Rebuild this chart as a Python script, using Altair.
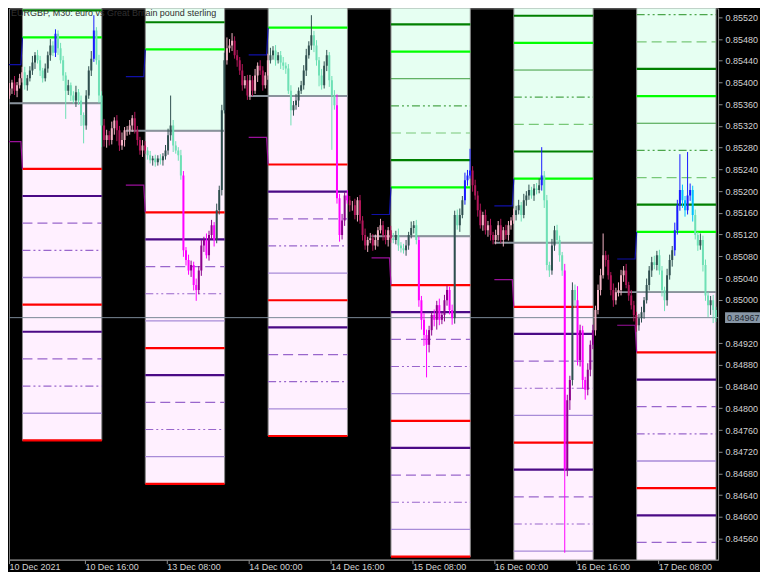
import altair as alt
import pandas as pd

# ---------------- data (prices in points above 0.84000; 1 point = 0.00001) ----------------
PRICE_BASE = 0.84
POINT = 0.00001

first_open = 1362
day0_close = [1367, 1376, 1389, 1400, 1385, 1395, 1408, 1419,
              1395, 1408, 1422, 1437, 1450, 1441, 1422, 1408,
              1426, 1450, 1468, 1455, 1490, 1463, 1441, 1413,
              1385, 1395, 1376, 1367, 1382, 1367, 1340, 1321,
              1376, 1422, 1444, 1496, 1441, 1376, 1321, 1294,
              1303, 1294, 1316, 1330, 1312, 1284, 1294, 1312]
day1_close = [1312, 1321, 1334, 1312, 1294, 1275, 1284, 1275,
              1266, 1257, 1260, 1253, 1260, 1257, 1264, 1275,
              1303, 1321, 1284, 1275, 1266, 1229, 1091, 1073,
              1054, 1064, 1027, 1018, 1054, 1100, 1110, 1082,
              1119, 1137, 1110, 1165, 1202, 1349, 1441, 1463,
              1468, 1477, 1450, 1441, 1422, 1395, 1404, 1376]
day2_close = [1404, 1385, 1413, 1431, 1422, 1395, 1413, 1441,
              1450, 1459, 1441, 1450, 1437, 1431, 1426, 1385,
              1349, 1358, 1367, 1385, 1395, 1422, 1450, 1468,
              1487, 1468, 1441, 1413, 1395, 1431, 1450, 1404,
              1376, 1358, 1187, 1119, 1146, 1192, 1183, 1174,
              1174, 1156, 1183, 1146, 1119, 1100, 1110, 1113]
day3_close = [1100, 1110, 1128, 1137, 1119, 1110, 1128, 1113,
              1110, 1119, 1100, 1095, 1091, 1100, 1119, 1132,
              1137, 1110, 999, 963, 935, 917, 944, 972,
              963, 990, 963, 972, 999, 1018, 981, 966,
              1156, 1137, 1156, 1183, 1220, 1229, 1238, 1211,
              1192, 1165, 1137, 1156, 1128, 1137, 1119, 1110]
day4_close = [1119, 1137, 1110, 1128, 1119, 1137, 1146, 1156,
              1165, 1174, 1156, 1183, 1192, 1202, 1192, 1205,
              1202, 1211, 1229, 1183, 1064, 1054, 1100, 1128,
              1110, 1082, 1054, 687, 815, 852, 1018, 999,
              889, 944, 852, 834, 871, 917, 944, 981,
              1018, 1045, 1082, 1073, 1045, 1018, 999, 1014]
day5_close = [1018, 1045, 1054, 1027, 1008, 990, 972, 953,
              966, 977, 999, 1027, 1054, 1069, 1064, 1082,
              1054, 1018, 999, 1045, 1073, 1091, 1128, 1174,
              1202, 1183, 1165, 1192, 1202, 1156, 1119, 1100,
              1110, 1064, 1008, 990, 999, 981, 967]

# wick lengths (points) above the body and below the body
day0_up = [8, 6, 10, 5, 12, 6, 8, 10, 10, 6, 8, 12, 6, 10, 8, 5,
           9, 7, 12, 8, 8, 6, 10, 8, 6, 10, 5, 8, 12, 6, 9, 5,
           10, 8, 14, 28, 6, 10, 8, 12, 10, 8, 12, 6, 10, 8, 14, 6]
day0_dn = [12, 8, 6, 10, 8, 12, 6, 8, 8, 10, 6, 8, 12, 6, 10, 8,
           6, 8, 10, 6, 8, 12, 6, 10, 52, 8, 10, 6, 12, 8, 20, 33,
           8, 6, 10, 6, 8, 14, 40, 12, 14, 10, 8, 12, 20, 10, 8, 12]
day1_up = [8, 10, 6, 12, 8, 6, 10, 8, 6, 8, 5, 7, 6, 8, 6, 10,
           12, 55, 10, 8, 6, 10, 8, 6, 10, 8, 6, 12, 8, 10, 6, 12,
           8, 10, 6, 12, 8, 10, 14, 20, 12, 14, 8, 10, 6, 12, 8, 10]
day1_dn = [10, 8, 12, 6, 10, 8, 12, 6, 8, 6, 10, 8, 6, 8, 10, 6,
           8, 10, 12, 6, 10, 8, 12, 10, 8, 12, 10, 20, 8, 10, 12, 6,
           10, 8, 12, 6, 8, 10, 6, 8, 8, 10, 6, 12, 8, 10, 6, 8]
day2_up = [10, 8, 12, 6, 10, 8, 6, 12, 14, 8, 10, 6, 8, 10, 6, 8,
           10, 8, 12, 6, 8, 10, 12, 8, 37, 8, 10, 6, 12, 8, 10, 6,
           8, 10, 20, 8, 12, 6, 10, 8, 8, 12, 6, 10, 8, 12, 6, 10]
day2_dn = [8, 10, 6, 12, 8, 10, 6, 8, 6, 8, 10, 6, 12, 8, 10, 6,
           28, 10, 8, 12, 6, 8, 10, 6, 8, 12, 10, 20, 8, 6, 10, 12,
           100, 8, 10, 12, 8, 10, 6, 12, 10, 8, 12, 6, 10, 8, 12, 6]
day3_up = [8, 10, 6, 12, 8, 10, 6, 8, 10, 8, 12, 6, 8, 10, 6, 12,
           8, 10, 6, 8, 12, 10, 8, 6, 10, 8, 12, 6, 10, 8, 6, 10,
           8, 10, 12, 8, 14, 10, 40, 8, 10, 8, 12, 6, 10, 8, 12, 6]
day3_dn = [10, 8, 12, 6, 10, 8, 12, 8, 6, 8, 10, 8, 6, 10, 8, 6,
           10, 8, 12, 18, 20, 60, 14, 10, 12, 18, 10, 8, 12, 10, 8, 12,
           10, 8, 12, 6, 8, 10, 6, 12, 8, 12, 6, 10, 8, 12, 10, 8]
day4_up = [10, 8, 12, 6, 10, 8, 6, 12, 8, 10, 6, 12, 8, 10, 6, 8,
           10, 12, 52, 8, 10, 6, 12, 8, 10, 8, 6, 12, 10, 8, 14, 10,
           26, 10, 8, 6, 12, 8, 10, 8, 10, 12, 40, 8, 10, 6, 12, 8]
day4_dn = [8, 10, 6, 12, 8, 10, 8, 6, 10, 8, 12, 6, 10, 8, 6, 10,
           8, 6, 10, 14, 10, 12, 8, 10, 8, 12, 10, 153, 12, 18, 10, 14,
           10, 12, 16, 18, 10, 12, 8, 10, 8, 10, 6, 12, 8, 10, 12, 8]
day5_up = [14, 10, 8, 12, 6, 10, 8, 6, 8, 10, 6, 12, 8, 10, 12, 8,
           10, 8, 6, 12, 10, 8, 14, 10, 66, 10, 8, 80, 12, 8, 10, 6,
           12, 8, 10, 6, 8, 10, 6]
day5_dn = [8, 10, 12, 6, 10, 8, 12, 12, 10, 8, 12, 6, 10, 12, 8, 10,
           8, 12, 20, 10, 8, 12, 10, 8, 10, 14, 12, 8, 10, 12, 8, 10,
           8, 12, 10, 22, 18, 24, 8]

# daily reference levels
day_open = [1362, 1311, 1375, 1117, 1105, 1014]
day_range = [121, 150, 126, 90, 118, 111]
level_step = 50
last_price = 967

title_text = "EURGBP, M30:  euro vs Great Britain pound sterling"
x_tick_bars = [0, 32, 64, 96, 128, 160, 192, 224, 256]
x_tick_labels = ["10 Dec 2021", "10 Dec 16:00", "13 Dec 08:00", "14 Dec 00:00",
                 "14 Dec 16:00", "15 Dec 08:00", "16 Dec 00:00", "16 Dec 16:00",
                 "17 Dec 08:00"]
# (0.84960 sits under the current-price label, as in the original)
y_ticks = [0.84560, 0.84600, 0.84640, 0.84680, 0.84720, 0.84760, 0.84800,
           0.84840, 0.84880, 0.84920, 0.85000, 0.85040, 0.85080,
           0.85120, 0.85160, 0.85200, 0.85240, 0.85280, 0.85320, 0.85360,
           0.85400, 0.85440, 0.85480, 0.85520]

# ---------------- layout / style ----------------
BARS_PER_DAY = 48
BOX_START, BOX_END = 7.6, 38.6
W, H = 710, 552
X0, X1 = 2.3415, 279.41
Y0, Y1 = 0.8452135, 0.8553655
FONT = "Liberation Sans"
AX_COL = "#8c8c8c"
LBL_COL = "#d2d2d2"


def px(v):
    return round(PRICE_BASE + v * POINT, 6)


closes = day0_close + day1_close + day2_close + day3_close + day4_close + day5_close
ups = day0_up + day1_up + day2_up + day3_up + day4_up + day5_up
dns = day0_dn + day1_dn + day2_dn + day3_dn + day4_dn + day5_dn
opens = [first_open] + closes[:-1]

rows = []
for i, (o, c) in enumerate(zip(opens, closes)):
    d, k = divmod(i, BARS_PER_DAY)
    O, L = day_open[d], day_range[d]
    bull = c >= o
    inbox = BOX_START <= k + 0.5 <= BOX_END
    if not inbox:
        col = "#f2b3c4" if bull else "#b3165a"
    elif c > O + L:
        col = "#1a1aff" if bull else "#00bfff"
    elif c < O - L:
        col = "#8b008b" if bull else "#ff00ff"
    else:
        col = "#2f4f4f" if bull else "#6ee0b5"
    rows.append(dict(x=i + 0.5, open=px(o), close=px(c),
                     high=px(max(o, c) + ups[i]), low=px(min(o, c) - dns[i]),
                     color=col))
candles = pd.DataFrame(rows)

box_rows, lvl_rows, grey_rows, pre_rows = [], [], [], []
for d, (O, L) in enumerate(zip(day_open, day_range)):
    s = d * BARS_PER_DAY
    x1, x2 = s + BOX_START, s + BOX_END
    box_rows.append(dict(x1=x1, x2=x2, p1=px(O), p2=px(O + L + 10 * level_step), fill="#e6fff2"))
    box_rows.append(dict(x1=x1, x2=x2, p1=px(O - L - 10 * level_step), p2=px(O), fill="#fff0ff"))
    for k in range(11):
        lvl_rows.append(dict(x1=x1, x2=x2, p=px(O - L - k * level_step), style="b%d" % (k % 5)))
        lvl_rows.append(dict(x1=x1, x2=x2, p=px(O + L + k * level_step), style="a%d" % (k % 5)))
    grey_rows.append(dict(x1=s, x2=x2, p=px(O)))
    for kind, base, tgt, col in [("hi", O + L - level_step, O + L, "#1010a8"),
                                 ("lo", O - L + level_step, O - L, "#9a109a")]:
        seg = "%s%d" % (kind, d)
        pre_rows += [dict(x=s, p=px(base), seg=seg, col=col, o=0),
                     dict(x=x1 - 0.6, p=px(base), seg=seg, col=col, o=1),
                     dict(x=x1, p=px(tgt), seg=seg, col=col, o=2)]

boxes = pd.DataFrame(box_rows)
levels = pd.DataFrame(lvl_rows)
greys = pd.DataFrame(grey_rows)
pre = pd.DataFrame(pre_rows)

xs = alt.Scale(domain=[X0, X1], nice=False, zero=False)
ys = alt.Scale(domain=[Y0, Y1], nice=False, zero=False)

label_arr = "[" + ",".join("'%s'" % t for t in x_tick_labels) + "]"
x_axis = alt.Axis(values=[2.35] + x_tick_bars[1:], labelExpr=label_arr + "[round(datum.value/32)]",
                  orient="bottom", title=None, grid=False, labelAlign="left", labelBaseline="top",
                  labelPadding=-1, tickSize=4, tickColor=AX_COL, domainColor=AX_COL,
                  labelColor=LBL_COL, labelFont=FONT, labelFontSize=9, labelOverlap=False,
                  labelFlush=False)
y_axis = alt.Axis(values=y_ticks, format=".5f", orient="right", title=None, grid=False,
                  tickSize=4, tickColor=AX_COL, domainColor=AX_COL, labelColor=LBL_COL,
                  labelFont=FONT, labelFontSize=9, labelPadding=3, labelOverlap=False,
                  labelFlush=False)


def X(field):
    return alt.X(field, scale=xs, axis=x_axis)


def Y(field):
    return alt.Y(field, scale=ys, axis=y_axis)


layers = []
layers.append(alt.Chart(boxes).mark_rect(clip=True, stroke="#8a8a8a", strokeWidth=1).encode(
    x=X("x1:Q"), x2="x2:Q", y=Y("p1:Q"), y2="p2:Q",
    fill=alt.Fill("fill:N", scale=None)))

styles = {
    "b0": ("#ff0000", 2.2, None), "b1": ("#4b0a86", 2.2, None),
    "b2": ("#9966cc", 1.2, [10, 5]), "b3": ("#9966cc", 1.2, [8, 3, 2, 3, 2, 3]),
    "b4": ("#a88bd8", 1.4, None),
    "a0": ("#00ff00", 2.2, None), "a1": ("#008000", 2.2, None),
    "a2": ("#78c878", 1.2, [10, 5]), "a3": ("#4ca64c", 1.2, [8, 3, 2, 3, 2, 3]),
    "a4": ("#3c9c3c", 1.0, None),
}
for key, (col, sw, dash) in styles.items():
    kw = dict(clip=True, color=col, strokeWidth=sw)
    if dash:
        kw["strokeDash"] = dash
    layers.append(alt.Chart(levels[levels["style"] == key]).mark_rule(**kw).encode(
        x=X("x1:Q"), x2="x2:Q", y=Y("p:Q")))

layers.append(alt.Chart(greys).mark_rule(clip=True, color="#8a939c", strokeWidth=2).encode(
    x=X("x1:Q"), x2="x2:Q", y=Y("p:Q")))

layers.append(alt.Chart(pre).mark_line(clip=True, strokeWidth=1.2).encode(
    x=X("x:Q"), y=Y("p:Q"),
    color=alt.Color("col:N", scale=None), detail="seg:N", order="o:Q"))

layers.append(alt.Chart(pd.DataFrame({"p": [px(last_price)]})).mark_rule(
    color="#7a8896", strokeWidth=1).encode(y=Y("p:Q")))

layers.append(alt.Chart(candles).mark_rule(clip=True, strokeWidth=1).encode(
    x=X("x:Q"), y=Y("low:Q"), y2="high:Q", color=alt.Color("color:N", scale=None)))
layers.append(alt.Chart(candles).mark_rule(clip=True, strokeWidth=2).encode(
    x=X("x:Q"), y=Y("open:Q"), y2="close:Q", color=alt.Color("color:N", scale=None)))

lp = pd.DataFrame({"p1": [px(last_price + 10)], "p2": [px(last_price - 10)],
                   "p": [px(last_price)], "t": ["%.5f" % px(last_price)]})
layers.append(alt.Chart(lp).mark_rect(color="#8796a6").encode(
    x=alt.value(W + 7), x2=alt.value(W + 42), y=Y("p1:Q"), y2="p2:Q"))
layers.append(alt.Chart(lp).mark_text(align="left", baseline="middle", font=FONT, fontSize=9,
                                      color="#1e2830").encode(
    x=alt.value(W + 9), y=Y("p:Q"), text="t:N"))

layers.append(alt.Chart(pd.DataFrame({"t": [title_text]})).mark_text(
    align="left", baseline="top", font=FONT, fontSize=9, color="#303030").encode(
    x=alt.value(2), y=alt.value(1), text="t:N"))

chart = alt.layer(*layers).properties(
    width=W, height=H, padding=0, background="#000000"
).configure_view(stroke="#808080", strokeWidth=1)

chart.save("out.html", embed_options={"renderer": "svg", "actions": False})
